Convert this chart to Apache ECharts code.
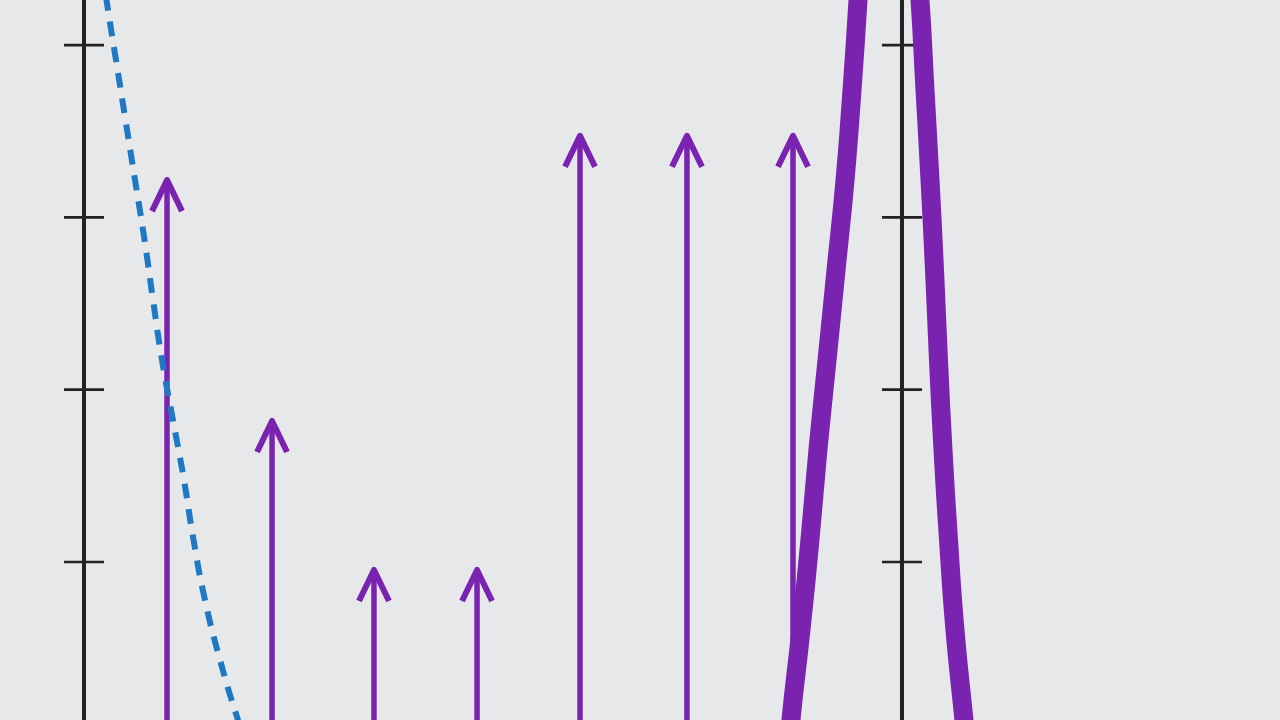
<!DOCTYPE html>
<html>
<head>
<meta charset="utf-8">
<style>
  html, body { margin: 0; padding: 0; background: #e7e8e9; }
  #chart { width: 1280px; height: 720px; }
</style>
<script src="https://cdn.jsdelivr.net/npm/echarts@6/dist/echarts.min.js"></script>
</head>
<body>
<div id="chart"></div>
<script>
// ---- data ----
var axisPositions = [0, 8];
var yTicks = [1, 2, 3, 4];

var arrowX = [0.812, 1.839, 2.836, 3.844, 4.851, 5.897, 6.934];
var arrowHeights = [3.234, 1.836, 0.971, 0.971, 3.491, 3.491, 3.491];

var blueCurveX = [0.181, 0.220, 0.313, 0.406, 0.499, 0.592, 0.675, 0.763, 0.870, 0.978, 1.071, 1.183, 1.330, 1.506, 1.643];
var blueCurveY = [4.436, 4.262, 3.913, 3.565, 3.217, 2.869, 2.521, 2.172, 1.824, 1.476, 1.129, 0.780, 0.432, 0.083, -0.149];

var peakCurveX = [6.895, 6.914, 7.012, 7.100, 7.178, 7.267, 7.355, 7.443, 7.511, 7.570, 7.645, 7.729, 7.797, 7.863,
                  7.930, 7.997, 8.081, 8.176, 8.225, 8.274, 8.318, 8.357, 8.401, 8.455, 8.518, 8.606, 8.636];
var peakCurveY = [-0.097, 0.083, 0.606, 1.129, 1.650, 2.172, 2.695, 3.217, 3.739, 4.262, 5.0, 5.6, 5.9, 6.0,
                  5.9, 5.6, 5.0, 4.262, 3.739, 3.217, 2.695, 2.172, 1.650, 1.129, 0.606, 0.083, -0.097];

// ---- build ----
var purple = '#7a23b1';
var blue = '#1f78c3';
var axisColor = '#222222';

function zip(a, b) { return a.map(function (v, i) { return [v, b[i]]; }); }

var chart = echarts.init(document.getElementById('chart'), null, { renderer: 'canvas' });

var option = {
  backgroundColor: '#e7e8e9',
  animation: false,
  grid: { left: 0, right: 0, top: 0, bottom: 0 },
  xAxis: { type: 'value', min: -0.8215, max: 11.697, show: false },
  yAxis: { type: 'value', min: 0.083, max: 4.2617, show: false },
  series: [
    {
      type: 'custom',
      name: 'axes',
      data: axisPositions.map(function (p) { return [p]; }),
      renderItem: function (params, api) {
        var cs = params.coordSys;
        var xv = api.value(0);
        var px = api.coord([xv, 1])[0];
        var children = [{
          type: 'line',
          shape: { x1: px, y1: cs.y - 5, x2: px, y2: cs.y + cs.height + 5 },
          style: { stroke: axisColor, lineWidth: 4 }
        }];
        yTicks.forEach(function (t) {
          var py = api.coord([xv, t])[1];
          children.push({
            type: 'line',
            shape: { x1: px - 20, y1: py, x2: px + 20, y2: py },
            style: { stroke: axisColor, lineWidth: 2.7 }
          });
        });
        return { type: 'group', children: children };
      },
      z: 1
    },
    {
      type: 'custom',
      name: 'arrows',
      data: zip(arrowX, arrowHeights),
      renderItem: function (params, api) {
        var xv = api.value(0), h = api.value(1);
        var base = api.coord([xv, 0]);
        var tip = api.coord([xv, h]);
        var tx = tip[0], ty = tip[1] + 3;
        return {
          type: 'group',
          children: [
            {
              type: 'line',
              shape: { x1: base[0], y1: base[1] + 10, x2: tx, y2: ty },
              style: { stroke: purple, lineWidth: 5.5 }
            },
            {
              type: 'polyline',
              shape: { points: [[tx - 15, ty + 31], [tx, ty], [tx + 15, ty + 31]] },
              style: { stroke: purple, lineWidth: 6, fill: null, lineJoin: 'round', lineCap: 'butt' }
            }
          ]
        };
      },
      z: 2
    },
    {
      type: 'line',
      name: 'blue',
      data: zip(blueCurveX, blueCurveY),
      smooth: true,
      showSymbol: false,
      symbol: 'none',
      lineStyle: { color: blue, width: 6, type: [15, 11] },
      z: 3
    },
    {
      type: 'line',
      name: 'peak',
      data: zip(peakCurveX, peakCurveY),
      smooth: true,
      showSymbol: false,
      symbol: 'none',
      lineStyle: { color: purple, width: 19 },
      z: 4
    }
  ]
};
chart.setOption(option);
</script>
</body>
</html>
